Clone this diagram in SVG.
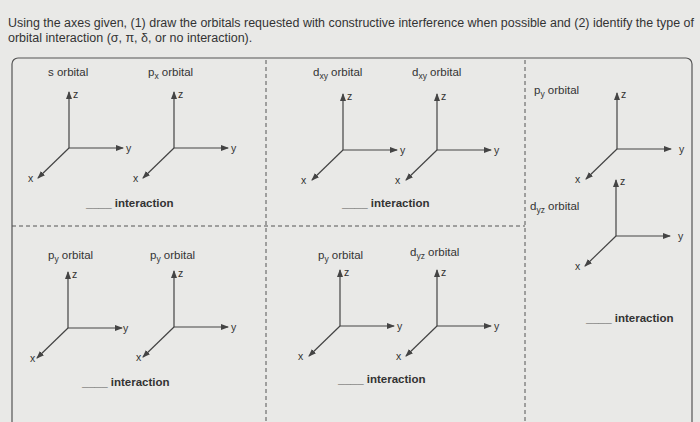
<svg xmlns="http://www.w3.org/2000/svg" xmlns:xlink="http://www.w3.org/1999/xlink" width="700" height="422" viewBox="0 0 700 422">
<style>
text{font-family:"Liberation Sans",Arial,sans-serif;fill:#333}
.t{font-size:12.5px}
.l{font-size:11.5px}
.a{font-size:10.5px}
.b{font-size:11.5px;font-weight:bold}
.ax{stroke:#444;stroke-width:1.2;fill:none}
.d{stroke:#555;stroke-width:1;stroke-dasharray:4,3;fill:none}
</style>
<defs>
<marker id="ar" markerWidth="8" markerHeight="6" refX="7" refY="3" orient="auto" markerUnits="userSpaceOnUse"><path d="M0,0L8,3L0,6z" fill="#444"/></marker>
<g id="axes"><line class="ax" x1="0" y1="0" x2="0" y2="-56" marker-end="url(#ar)"/><line class="ax" x1="0" y1="0" x2="54" y2="0" marker-end="url(#ar)"/><line class="ax" x1="0" y1="0" x2="-31" y2="30" marker-end="url(#ar)"/></g>
</defs>
<rect width="700" height="422" fill="#e9e9e7"/>
<text class="t" x="8" y="27" textLength="686" lengthAdjust="spacingAndGlyphs">Using the axes given, (1) draw the orbitals requested with constructive interference when possible and (2) identify the type of</text>
<text class="t" x="8" y="42">orbital interaction (σ, π, δ, or no interaction).</text>
<rect x="12" y="58" width="680" height="380" rx="6" fill="none" stroke="#555" stroke-width="1.2"/>
<g id="dividers">
<line class="d" x1="266" y1="60" x2="266" y2="422"/>
<line class="d" x1="525" y1="60" x2="525" y2="422"/>
<line class="d" x1="12" y1="226" x2="525" y2="226"/>
</g>
<g id="n1"><text class="l" x="48" y="76">s orbital</text><use xlink:href="#axes" x="69" y="148"/><text class="a" x="73" y="98">z</text><text class="a" x="126" y="152">y</text><text class="a" x="28" y="182">x</text></g>
<g id="n2"><text class="l" x="148" y="76">p<tspan font-size="8.5" dy="3">x</tspan><tspan dy="-3"> orbital</tspan></text><use xlink:href="#axes" x="174" y="148"/><text class="a" x="178" y="98">z</text><text class="a" x="231" y="152">y</text><text class="a" x="133" y="182">x</text></g>
<text class="b" x="86" y="207">____ interaction</text>
<g id="n3"><text class="l" x="313" y="76">d<tspan font-size="8.5" dy="3">xy</tspan><tspan dy="-3"> orbital</tspan></text><use xlink:href="#axes" x="343" y="150"/><text class="a" x="347" y="100">z</text><text class="a" x="400" y="154">y</text><text class="a" x="301" y="184">x</text></g>
<g id="n4"><text class="l" x="412" y="76">d<tspan font-size="8.5" dy="3">xy</tspan><tspan dy="-3"> orbital</tspan></text><use xlink:href="#axes" x="437" y="150"/><text class="a" x="441" y="100">z</text><text class="a" x="494" y="154">y</text><text class="a" x="395" y="184">x</text></g>
<text class="b" x="342" y="207">____ interaction</text>
<g id="n5"><text class="l" x="534" y="94">p<tspan font-size="8.5" dy="3">y</tspan><tspan dy="-3"> orbital</tspan></text><use xlink:href="#axes" x="617" y="149"/><text class="a" x="621" y="98">z</text><text class="a" x="679" y="153">y</text><text class="a" x="575" y="183">x</text></g>
<g id="n6"><text class="l" x="530" y="210">d<tspan font-size="8.5" dy="3">yz</tspan><tspan dy="-3"> orbital</tspan></text><use xlink:href="#axes" x="616" y="236"/><text class="a" x="620" y="185">z</text><text class="a" x="678" y="240">y</text><text class="a" x="575" y="270">x</text></g>
<text class="b" x="586" y="322">____ interaction</text>
<g id="n7"><text class="l" x="48" y="259">p<tspan font-size="8.5" dy="3">y</tspan><tspan dy="-3"> orbital</tspan></text><use xlink:href="#axes" x="68" y="328"/><text class="a" x="72" y="278">z</text><text class="a" x="123" y="332">y</text><text class="a" x="30" y="362">x</text></g>
<g id="n8"><text class="l" x="150" y="259">p<tspan font-size="8.5" dy="3">y</tspan><tspan dy="-3"> orbital</tspan></text><use xlink:href="#axes" x="174" y="327"/><text class="a" x="178" y="277">z</text><text class="a" x="231" y="331">y</text><text class="a" x="136" y="361">x</text></g>
<text class="b" x="82" y="386">____ interaction</text>
<g id="n9"><text class="l" x="318" y="259">p<tspan font-size="8.5" dy="3">y</tspan><tspan dy="-3"> orbital</tspan></text><use xlink:href="#axes" x="340" y="326"/><text class="a" x="344" y="276">z</text><text class="a" x="397" y="330">y</text><text class="a" x="298" y="360">x</text></g>
<g id="n10"><text class="l" x="410" y="256">d<tspan font-size="8.5" dy="3">yz</tspan><tspan dy="-3"> orbital</tspan></text><use xlink:href="#axes" x="437" y="326"/><text class="a" x="441" y="276">z</text><text class="a" x="494" y="330">y</text><text class="a" x="396" y="360">x</text></g>
<text class="b" x="338" y="383">____ interaction</text>
</svg>
